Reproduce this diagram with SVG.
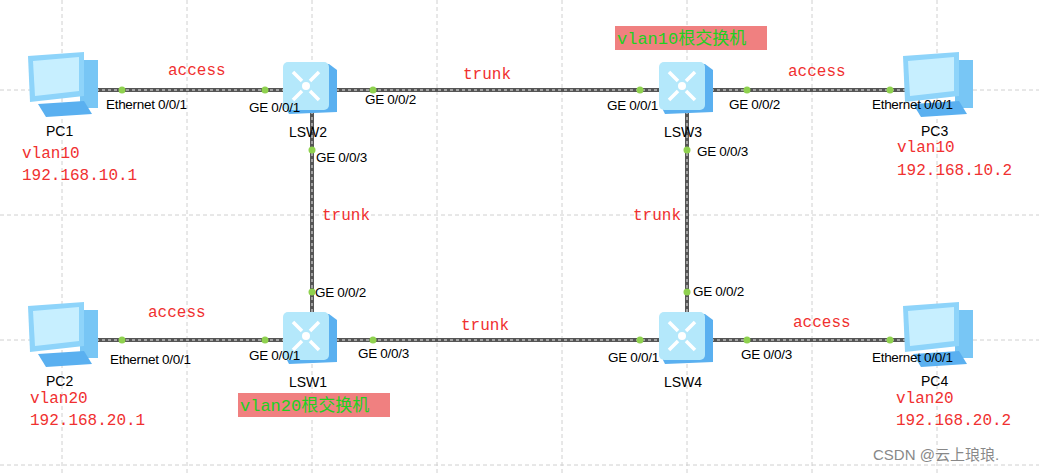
<svg xmlns="http://www.w3.org/2000/svg" width="1039" height="473" viewBox="0 0 1039 473">
<style>
.grid{stroke:#d0d0d0;stroke-width:1;stroke-dasharray:4 3;fill:none}
.lk{stroke:#555;stroke-width:4;fill:none}
.lkd{stroke:#bbb;stroke-width:1.5;stroke-dasharray:3 3;fill:none}
.dot{fill:#8fd14f}
.p{font-family:"Liberation Sans",Arial,sans-serif;font-size:13.5px;letter-spacing:-0.3px;fill:#000}
.n{font-family:"Liberation Sans",Arial,sans-serif;font-size:14px;fill:#000}
.r{font-family:"Liberation Mono","DejaVu Sans Mono",monospace;font-size:16px;fill:#f03030}
.g{font-family:"Liberation Mono","Noto Sans CJK SC",monospace;font-size:17px;fill:#20d020}
</style>
<defs>
<g id="sw">
<path d="M-22,-24 L20,-24 L28,-18 L28,24 L-20,26 L-22,22 Z" fill="#5ab0f0"/>
<rect x="-26" y="-26" width="46" height="48" rx="5" fill="#b4e8fb"/>
<path d="M-16,-16 l9,9 M-16,12 l9,-9 M10,-16 l-9,9 M10,12 l-9,-9" stroke="#fff" stroke-width="3.5"/>
<circle cx="-3" cy="-2" r="4" fill="#fff"/>
</g>
<g id="pc">
<rect x="20" y="-26" width="18" height="48" fill="#78c6f5"/>
<path d="M-32,-30 L24,-34 L24,10 L-30,16 Z" fill="#8ed4fa"/>
<path d="M-27,-25 L19,-29 L19,5 L-25,10 Z" fill="#c7efff"/>
<path d="M-22,18 L24,15 L32,28 L-14,31 Z" fill="#5ab0f0"/>
</g>
</defs>
<g id="grid">
<path class="grid" d="M62,0V473M187,0V473M312,0V473M437,0V473M562,0V473M687,0V473M812,0V473M937,0V473M0,90H1039M0,215H1039M0,340H1039M0,465H1039"/>
</g>
<g id="connectors">
<path class="lk" d="M90,90H290M330,90H670M705,90H910M312,105V325M687,105V325M90,340H290M330,340H670M705,340H910"/>
<path class="lkd" d="M90,90H290M330,90H670M705,90H910M312,105V325M687,105V325M90,340H290M330,340H670M705,340H910"/>
</g>
<g id="PC1"><use href="#pc" x="60" y="86"/><text class="n" x="46" y="136">PC1</text>
<text class="r" x="22" y="158">vlan10</text><text class="r" x="22" y="180">192.168.10.1</text></g>
<g id="PC2"><use href="#pc" x="60" y="336"/><text class="n" x="46" y="386">PC2</text>
<text class="r" x="30" y="403">vlan20</text><text class="r" x="30" y="425">192.168.20.1</text></g>
<g id="PC3"><use href="#pc" x="935" y="86"/><text class="n" x="921" y="136">PC3</text>
<text class="r" x="897" y="152">vlan10</text><text class="r" x="897" y="175">192.168.10.2</text></g>
<g id="PC4"><use href="#pc" x="935" y="336"/><text class="n" x="921" y="386">PC4</text>
<text class="r" x="896" y="403">vlan20</text><text class="r" x="896" y="425">192.168.20.2</text></g>
<g id="LSW2"><use href="#sw" x="309" y="88"/><text class="n" x="289" y="137">LSW2</text></g>
<g id="LSW3"><use href="#sw" x="685" y="88"/><text class="n" x="664" y="137">LSW3</text></g>
<g id="LSW1"><use href="#sw" x="309" y="338"/><text class="n" x="289" y="387">LSW1</text></g>
<g id="LSW4"><use href="#sw" x="685" y="338"/><text class="n" x="664" y="387">LSW4</text></g>
<g id="ports">
<g class="dot">
<circle cx="122" cy="90" r="3.5"/><circle cx="265" cy="90" r="3.5"/><circle cx="373" cy="90" r="3.5"/>
<circle cx="640" cy="90" r="3.5"/><circle cx="747" cy="90" r="3.5"/><circle cx="890" cy="90" r="3.5"/>
<circle cx="312" cy="150" r="3.5"/><circle cx="687" cy="150" r="3.5"/>
<circle cx="312" cy="292" r="3.5"/><circle cx="687" cy="292" r="3.5"/>
<circle cx="122" cy="340" r="3.5"/><circle cx="265" cy="340" r="3.5"/><circle cx="373" cy="340" r="3.5"/>
<circle cx="640" cy="340" r="3.5"/><circle cx="747" cy="340" r="3.5"/><circle cx="890" cy="340" r="3.5"/>
</g>
<text class="r" x="168" y="75">access</text>
<text class="r" x="463" y="79">trunk</text>
<text class="r" x="788" y="76">access</text>
<text class="r" x="322" y="220">trunk</text>
<text class="r" x="633" y="220">trunk</text>
<text class="r" x="148" y="317">access</text>
<text class="r" x="461" y="330">trunk</text>
<text class="r" x="793" y="327">access</text>
<text class="p" x="106" y="109">Ethernet 0/0/1</text>
<text class="p" x="249" y="112">GE 0/0/1</text>
<text class="p" x="365" y="104">GE 0/0/2</text>
<text class="p" x="607" y="110">GE 0/0/1</text>
<text class="p" x="729" y="109">GE 0/0/2</text>
<text class="p" x="872" y="109">Ethernet 0/0/1</text>
<text class="p" x="316" y="162">GE 0/0/3</text>
<text class="p" x="697" y="156">GE 0/0/3</text>
<text class="p" x="315" y="297">GE 0/0/2</text>
<text class="p" x="693" y="296">GE 0/0/2</text>
<text class="p" x="110" y="364">Ethernet 0/0/1</text>
<text class="p" x="249" y="360">GE 0/0/1</text>
<text class="p" x="358" y="358">GE 0/0/3</text>
<text class="p" x="608" y="362">GE 0/0/1</text>
<text class="p" x="741" y="359">GE 0/0/3</text>
<text class="p" x="872" y="362">Ethernet 0/0/1</text>
</g>
<g id="label10"><rect x="615" y="26" width="152" height="24" fill="#f08080"/><text class="g" x="617" y="44">vlan10根交换机</text></g>
<g id="label20"><rect x="238" y="393" width="152" height="24" fill="#f08080"/><text class="g" x="240" y="411">vlan20根交换机</text></g>
<text x="873" y="460" font-family="'Liberation Sans','Noto Sans CJK SC',sans-serif" font-size="15" fill="#888">CSDN @云上琅琅.</text>
</svg>
